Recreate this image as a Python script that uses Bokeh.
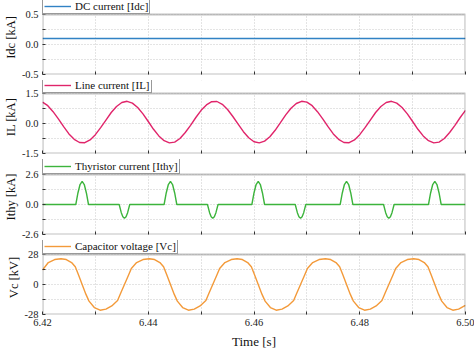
from bokeh.plotting import figure
from bokeh.layouts import column
from bokeh.models import (Range1d, FixedTicker, Legend, LegendItem, BoxAnnotation,
                          NumeralTickFormatter)
from bokeh.embed import file_html
from bokeh.resources import INLINE
import numpy as np

FONT = "Liberation Serif"

# ---------------- data ----------------
x_major = [6.42, 6.44, 6.46, 6.48, 6.50]
x_minor = [6.43, 6.45, 6.47, 6.49]
x_grid = [6.42, 6.43, 6.44, 6.45, 6.46, 6.47, 6.48, 6.49, 6.50]

# DC current [kA]
idc_t = [6.42, 6.50]
idc_v = [0.1, 0.1]

# Line current [kA], sampled every 1 ms
il_t = np.linspace(6.42, 6.50, 81)
il_v = [1.07, 0.89, 0.59, 0.23, -0.16, -0.52, -0.79, -0.95, -0.96, -0.82,
        -0.56, -0.21, 0.17, 0.55, 0.85, 1.05, 1.11, 1.02, 0.80, 0.48,
        0.10, -0.29, -0.62, -0.86, -0.97, -0.93, -0.75, -0.45, -0.09, 0.30,
        0.66, 0.93, 1.09, 1.10, 0.96, 0.70, 0.35, -0.03, -0.41, -0.71,
        -0.91, -0.97, -0.88, -0.66, -0.34, 0.04, 0.43, 0.76, 1.00, 1.11,
        1.07, 0.89, 0.59, 0.23, -0.16, -0.52, -0.79, -0.95, -0.96, -0.82,
        -0.56, -0.21, 0.17, 0.55, 0.85, 1.05, 1.11, 1.02, 0.80, 0.48,
        0.10, -0.29, -0.62, -0.86, -0.97, -0.93, -0.75, -0.45, -0.09, 0.30,
        0.66]

# Thyristor current [kA]
thy_t = [6.4200,
         6.4263, 6.4267, 6.4271, 6.4275, 6.4279, 6.4283, 6.4287,
         6.4345, 6.4349, 6.4352, 6.4355, 6.4358, 6.4361, 6.4365,
         6.4430, 6.4434, 6.4438, 6.4442, 6.4446, 6.4450, 6.4454,
         6.4512, 6.4516, 6.4519, 6.4522, 6.4525, 6.4528, 6.4532,
         6.4596, 6.4600, 6.4604, 6.4608, 6.4612, 6.4616, 6.4620,
         6.4678, 6.4682, 6.4685, 6.4688, 6.4691, 6.4694, 6.4698,
         6.4763, 6.4767, 6.4771, 6.4775, 6.4779, 6.4783, 6.4787,
         6.4845, 6.4849, 6.4852, 6.4855, 6.4858, 6.4861, 6.4865,
         6.4930, 6.4934, 6.4938, 6.4942, 6.4946, 6.4950, 6.4954,
         6.5000]
thy_v = [0.0,
         0.0, 1.0, 1.73, 2.0, 1.73, 1.0, 0.0,
         0.0, -0.71, -1.07, -1.2, -1.07, -0.71, 0.0,
         0.0, 1.0, 1.73, 2.0, 1.73, 1.0, 0.0,
         0.0, -0.71, -1.07, -1.2, -1.07, -0.71, 0.0,
         0.0, 1.0, 1.73, 2.0, 1.73, 1.0, 0.0,
         0.0, -0.71, -1.07, -1.2, -1.07, -0.71, 0.0,
         0.0, 1.0, 1.73, 2.0, 1.73, 1.0, 0.0,
         0.0, -0.71, -1.07, -1.2, -1.07, -0.71, 0.0,
         0.0, 1.0, 1.73, 2.0, 1.73, 1.0, 0.0,
         0.0]

# Capacitor voltage [kV]
vc_t = [6.4200, 6.4211, 6.4223,
        6.4235, 6.4245, 6.4255, 6.4262, 6.4268, 6.4275, 6.4282, 6.4288, 6.4298, 6.4309,
        6.4320, 6.4331, 6.4342, 6.4348, 6.4355, 6.4362, 6.4368, 6.4378, 6.4390,
        6.4402, 6.4412, 6.4422, 6.4429, 6.4435, 6.4442, 6.4449, 6.4455, 6.4465, 6.4476,
        6.4487, 6.4498, 6.4509, 6.4515, 6.4522, 6.4529, 6.4535, 6.4545, 6.4557,
        6.4568, 6.4578, 6.4588, 6.4595, 6.4601, 6.4608, 6.4615, 6.4621, 6.4631, 6.4642,
        6.4653, 6.4664, 6.4675, 6.4681, 6.4688, 6.4695, 6.4701, 6.4711, 6.4723,
        6.4735, 6.4745, 6.4755, 6.4762, 6.4768, 6.4775, 6.4782, 6.4788, 6.4798, 6.4809,
        6.4820, 6.4831, 6.4842, 6.4848, 6.4855, 6.4862, 6.4868, 6.4878, 6.4890,
        6.4902, 6.4912, 6.4922, 6.4929, 6.4935, 6.4942, 6.4949, 6.4955, 6.4965, 6.4976,
        6.4987, 6.4998, 6.5000]
vc_v = [13.5, 20.5, 23.3,
        24.0, 23.3, 20.5, 16.5, 9.0, 0.0, -9.0, -15.5, -21.5, -24.0,
        -23.0, -20.0, -15.0, -8.0, 0.0, 8.0, 15.0, 20.5, 23.3,
        24.0, 23.3, 20.5, 16.5, 9.0, 0.0, -9.0, -15.5, -21.5, -24.0,
        -23.0, -20.0, -15.0, -8.0, 0.0, 8.0, 15.0, 20.5, 23.3,
        24.0, 23.3, 20.5, 16.5, 9.0, 0.0, -9.0, -15.5, -21.5, -24.0,
        -23.0, -20.0, -15.0, -8.0, 0.0, 8.0, 15.0, 20.5, 23.3,
        24.0, 23.3, 20.5, 16.5, 9.0, 0.0, -9.0, -15.5, -21.5, -24.0,
        -23.0, -20.0, -15.0, -8.0, 0.0, 8.0, 15.0, 20.5, 23.3,
        24.0, 23.3, 20.5, 16.5, 9.0, 0.0, -9.0, -15.5, -21.5, -24.0,
        -23.0, -20.0, -19.5]

panels = [
    dict(t=idc_t, v=idc_v, color="#3182c4", legend="DC current [Idc]", ylabel="Idc [kA]",
         yr=(-0.5, 0.5), ymaj=[-0.5, 0.0, 0.5], ymin=[-0.25, 0.25], fmt="0.0",
         strip=14, bottom=6),
    dict(t=il_t, v=il_v, color="#e0246a", legend="Line current [IL]", ylabel="IL [kA]",
         yr=(-1.5, 1.5), ymaj=[-1.5, 0.0, 1.5], ymin=[-0.75, 0.75], fmt="0.0",
         strip=13, bottom=6),
    dict(t=thy_t, v=thy_v, color="#3cb43c", legend="Thyristor current [Ithy]", ylabel="Ithy [kA]",
         yr=(-2.6, 2.6), ymaj=[-2.6, 0.0, 2.6], ymin=[-1.3, 1.3], fmt="0.0",
         strip=15, bottom=6),
    dict(t=vc_t, v=vc_v, color="#f39a3a", legend="Capacitor voltage [Vc]", ylabel="Vc [kV]",
         yr=(-28, 28), ymaj=[-28, 0, 28], ymin=[-14, 14], fmt="0",
         strip=14, bottom=38),
]

LEFT = 38
RIGHT = 9
W = 474
DATA_H = 60     # data area height (px)

figs = []
for i, d in enumerate(panels):
    last = i == len(panels) - 1
    y0, y1 = d["yr"]
    strip = d["strip"]
    ytop = y1 + (y1 - y0) * strip / DATA_H   # room for the legend strip
    p = figure(width=W, height=strip + DATA_H + d["bottom"], x_range=Range1d(6.42, 6.50),
               y_range=Range1d(y0, ytop), output_backend="svg", toolbar_location=None,
               min_border_left=LEFT, min_border_right=RIGHT, min_border_top=0,
               min_border_bottom=d["bottom"], outline_line_color=None,
               background_fill_color="white", border_fill_color="white")
    r = p.line(d["t"], d["v"], line_color=d["color"], line_width=1.4)

    # x axis
    xa = p.xaxis[0]
    xa.ticker = FixedTicker(ticks=x_major, minor_ticks=x_minor)
    xa.axis_line_color = None
    xa.major_tick_in = 3
    xa.major_tick_out = 0
    xa.minor_tick_in = 3
    xa.minor_tick_out = 0
    xa.major_tick_line_color = "#333333"
    xa.minor_tick_line_color = "#333333"
    if last:
        xa.formatter = NumeralTickFormatter(format="0.00")
        xa.major_label_text_font = FONT
        xa.major_label_text_font_size = "10.5px"
        xa.major_label_text_color = "#222222"
        xa.major_label_standoff = 4
        xa.axis_label = "Time [s]"
        xa.axis_label_text_font = FONT
        xa.axis_label_text_font_style = "normal"
        xa.axis_label_text_font_size = "13px"
        xa.axis_label_text_color = "#111111"
        xa.axis_label_standoff = 5
    else:
        xa.major_label_text_font_size = "1px"
        xa.major_label_text_color = None
        xa.major_label_standoff = 0

    # y axis
    ya = p.yaxis[0]
    ya.ticker = FixedTicker(ticks=d["ymaj"], minor_ticks=d["ymin"])
    ya.formatter = NumeralTickFormatter(format=d["fmt"])
    ya.axis_line_color = None
    ya.major_tick_in = 3
    ya.major_tick_out = 0
    ya.minor_tick_in = 3
    ya.minor_tick_out = 0
    ya.major_tick_line_color = "#333333"
    ya.minor_tick_line_color = "#333333"
    ya.major_label_text_font = FONT
    ya.major_label_text_font_size = "10.5px"
    ya.major_label_text_color = "#222222"
    ya.major_label_standoff = 4
    ya.axis_label = d["ylabel"]
    ya.axis_label_text_font = FONT
    ya.axis_label_text_font_style = "normal"
    ya.axis_label_text_font_size = "12.5px"
    ya.axis_label_text_color = "#111111"
    ya.axis_label_standoff = 1

    # grids
    p.xgrid.ticker = FixedTicker(ticks=x_grid)
    p.ygrid.ticker = FixedTicker(ticks=d["ymaj"] + d["ymin"])
    for g in (p.xgrid, p.ygrid):
        g.grid_line_color = "#c8c8c8"
        g.grid_line_dash = "1 2"
        g.grid_line_width = 1

    # white strip above the data area, and the data-area box
    p.add_layout(BoxAnnotation(bottom=y1, fill_color="white", fill_alpha=1.0,
                               line_color=None))
    p.add_layout(BoxAnnotation(top=y1, fill_alpha=0.0, line_color="#333333",
                               line_width=2.2))

    # legend sitting on top of the data-area box
    leg = Legend(items=[LegendItem(label=d["legend"], renderers=[r])],
                 location=(0, DATA_H),
                 border_line_color="#333333", border_line_width=1, background_fill_alpha=1,
                 padding=1, margin=0, spacing=0, glyph_width=27, glyph_height=10,
                 label_standoff=4, label_height=11, label_text_font=FONT,
                 label_text_font_size="11px", label_text_baseline="middle",
                 label_text_color="#111111")
    p.add_layout(leg)
    figs.append(p)

layout = column(*figs, spacing=0)
open("out.html", "w").write(file_html(layout, INLINE))
